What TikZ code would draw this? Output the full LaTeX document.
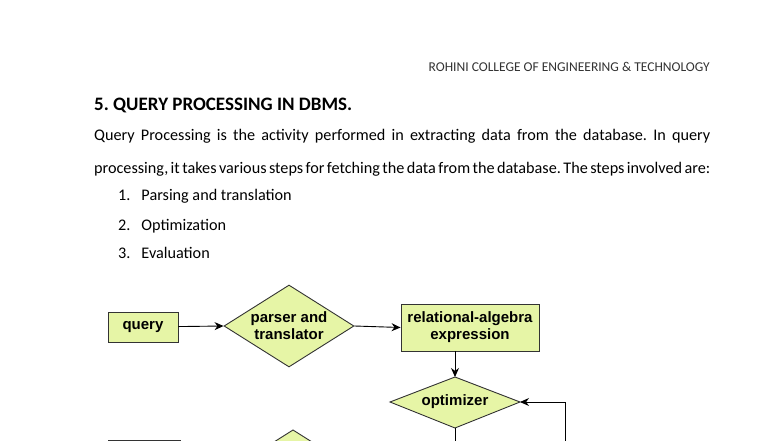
\documentclass[tikz,border=0pt]{standalone}
\usepackage{fontspec}
\setmainfont{Carlito}
\newfontfamily\arialf{Liberation Sans}
\usetikzlibrary{shapes.geometric,arrows.meta}
\definecolor{boxgreen}{HTML}{E6F5A6}
\begin{document}
\frenchspacing
\begin{tikzpicture}[x=1pt,y=-1pt,
  txt/.style={inner sep=0pt,anchor=base west,font=\fontsize{16.2}{18}\selectfont},
  gbox/.style={draw=black!80,fill=boxgreen,line width=0.9pt,inner sep=0pt,font=\arialf\bfseries\fontsize{15}{17}\selectfont,align=center},
  gdia/.style={diamond,aspect=1,draw=black!80,fill=boxgreen,line width=0.9pt,inner sep=0pt,font=\arialf\bfseries\fontsize{15}{17}\selectfont,align=center},
  conn/.style={line width=0.9pt,-{Stealth[length=9pt,width=8pt]}}]
\path[use as bounding box,fill=white] (0,0) rectangle (784,441);
\clip (0,0) rectangle (784,441);
\node[inner sep=0pt,anchor=base east,font=\fontsize{13.5}{14}\selectfont,text=black!80] (hdr) at (710,72) {ROHINI COLLEGE OF ENGINEERING \& TECHNOLOGY};
\node[txt,font=\bfseries\fontsize{19}{21}\selectfont] (head) at (94,111) {5. QUERY PROCESSING IN DBMS.};
\node[txt] (p1) at (94,141) {\makebox[616pt][s]{Query Processing is the activity performed in extracting data from the database. In query}};
\node[txt] (p2) at (94,173) {\makebox[616pt][s]{processing, it takes various steps for fetching the data from the database. The steps involved are:}};
\node[txt] (l1) at (118,200) {1.\hspace{11pt}Parsing and translation};
\node[txt] (l2) at (118,230) {2.\hspace{11pt}Optimization};
\node[txt] (l3) at (118,258) {3.\hspace{11pt}Evaluation};
% diagram
\node[gbox,minimum width=70pt,minimum height=30pt] (query) at (143,327) {query};
\node[gdia,minimum width=130pt,minimum height=82pt] (parser) at (289,326) {};
\node[font=\arialf\bfseries\fontsize{15}{17}\selectfont,align=center,inner sep=0pt] at (289,326) {parser and\\translator};
\node[gbox,minimum width=138pt,minimum height=47pt] (rel) at (470,327.5) {relational-algebra\\expression};
\path[draw=black!80,fill=boxgreen,line width=0.9pt] (390,402) -- (455,377) -- (520,402) -- (455,428) -- cycle;
\node[font=\arialf\bfseries\fontsize{15}{17}\selectfont,inner sep=0pt] (opt) at (455,402) {optimizer};
\coordinate (optT) at (455,377);
\coordinate (optR) at (520,402);
\coordinate (optB) at (455,428);
\coordinate (fb) at (565,402);
\coordinate (fbB) at (565,450);
\coordinate (optD) at (455,450);
\draw[conn] (query) -- (parser.west);
\draw[conn] (parser.east) -- (rel.west);
\draw[conn] (rel.south -| optT) -- (optT);
\draw[conn] (fbB) -- (fb) -- (optR);
\draw[line width=0.9pt] (optB) -- (optD);
\draw[draw=black!80,fill=boxgreen,line width=0.9pt] (108,440) rectangle (180,470);
\path[draw=black!80,fill=boxgreen,line width=0.9pt] (228,471) -- (293,430) -- (358,471) -- (293,512) -- cycle;
\end{tikzpicture}
\end{document}
